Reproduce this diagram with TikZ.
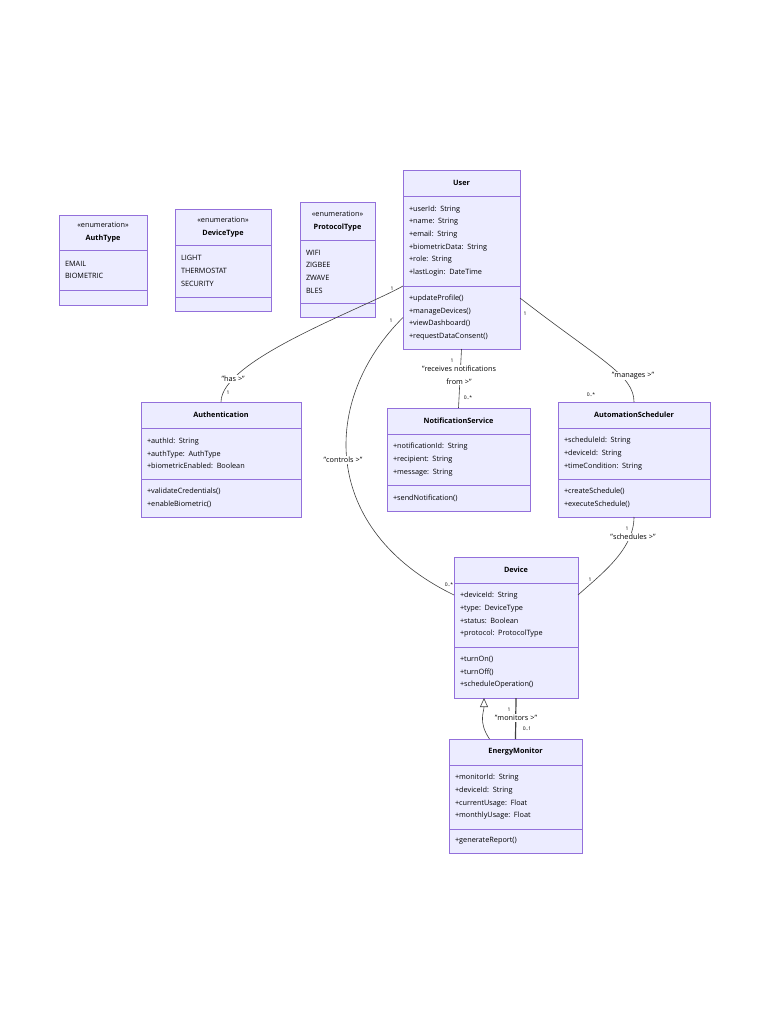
\documentclass[tikz,border=0pt]{standalone}
\usepackage{fontspec}
\setmainfont{Open Sans}
\usetikzlibrary{positioning,arrows.meta}

\definecolor{classfill}{HTML}{ECECFF}
\definecolor{classline}{HTML}{9370DB}

\begin{document}
\begin{tikzpicture}[x=1pt,y=-1pt,
    box/.style={draw=classline, fill=classfill, line width=0.8pt, outer sep=0pt, inner xsep=6pt,
        font=\fontsize{7.3}{12.7}\selectfont},
    ctitle/.style={box, anchor=north west, align=center, font=\fontsize{7.3}{12.7}\selectfont\bfseries},
    cbody/.style={box, align=left, anchor=north},
    assoc/.style={draw=black!75, line width=0.6pt},
    lbl/.style={font=\fontsize{7.3}{12.7}\selectfont, fill=white, inner sep=1pt, align=center},
    mult/.style={font=\fontsize{5}{6}\selectfont, inner sep=0pt}]
    \useasboundingbox (0,0) rectangle (768,1024);

    % enumerations
    \node[ctitle, minimum width=88, minimum height=35] (AuthType) at (59,215) {{\mdseries «enumeration»}\\AuthType};
    \node[cbody, minimum width=88, minimum height=40, text width=76, below=0pt of AuthType] (AuthType-a) {EMAIL\\BIOMETRIC};
    \node[cbody, minimum width=88, minimum height=15, below=0pt of AuthType-a] (AuthType-m) {};

    \node[ctitle, minimum width=96, minimum height=36] (DeviceType) at (175,209) {{\mdseries «enumeration»}\\DeviceType};
    \node[cbody, minimum width=96, minimum height=52, text width=84, below=0pt of DeviceType] (DeviceType-a) {LIGHT\\THERMOSTAT\\SECURITY};
    \node[cbody, minimum width=96, minimum height=14, below=0pt of DeviceType-a] (DeviceType-m) {};

    \node[ctitle, minimum width=75, minimum height=38] (ProtocolType) at (300,202) {{\mdseries «enumeration»}\\ProtocolType};
    \node[cbody, minimum width=75, minimum height=63, text width=63, below=0pt of ProtocolType] (ProtocolType-a) {WIFI\\ZIGBEE\\ZWAVE\\BLES};
    \node[cbody, minimum width=75, minimum height=14, below=0pt of ProtocolType-a] (ProtocolType-m) {};

    % classes
    \node[ctitle, minimum width=117, minimum height=26] (User) at (403,170) {User};
    \node[cbody, minimum width=117, minimum height=90, text width=105, below=0pt of User] (User-a)
        {+userId: String\\+name: String\\+email: String\\+biometricData: String\\+role: String\\+lastLogin: DateTime};
    \node[cbody, minimum width=117, minimum height=63, text width=105, below=0pt of User-a] (User-m)
        {+updateProfile()\\+manageDevices()\\+viewDashboard()\\+requestDataConsent()};

    \node[ctitle, minimum width=160, minimum height=26] (Auth) at (141,402) {Authentication};
    \node[cbody, minimum width=160, minimum height=51, text width=148, below=0pt of Auth] (Auth-a)
        {+authId: String\\+authType: AuthType\\+biometricEnabled: Boolean};
    \node[cbody, minimum width=160, minimum height=38, text width=148, below=0pt of Auth-a] (Auth-m)
        {+validateCredentials()\\+enableBiometric()};

    \node[ctitle, minimum width=143, minimum height=26] (Notif) at (387,408) {NotificationService};
    \node[cbody, minimum width=143, minimum height=51, text width=131, below=0pt of Notif] (Notif-a)
        {+notificationId: String\\+recipient: String\\+message: String};
    \node[cbody, minimum width=143, minimum height=26, text width=131, below=0pt of Notif-a] (Notif-m)
        {+sendNotification()};

    \node[ctitle, minimum width=152, minimum height=26] (Sched) at (558,402) {AutomationScheduler};
    \node[cbody, minimum width=152, minimum height=51, text width=140, below=0pt of Sched] (Sched-a)
        {+scheduleId: String\\+deviceId: String\\+timeCondition: String};
    \node[cbody, minimum width=152, minimum height=38, text width=140, below=0pt of Sched-a] (Sched-m)
        {+createSchedule()\\+executeSchedule()};

    \node[ctitle, minimum width=124, minimum height=26] (Device) at (454,557) {Device};
    \node[cbody, minimum width=124, minimum height=64, text width=112, below=0pt of Device] (Device-a)
        {+deviceId: String\\+type: DeviceType\\+status: Boolean\\+protocol: ProtocolType};
    \node[cbody, minimum width=124, minimum height=51, text width=112, below=0pt of Device-a] (Device-m)
        {+turnOn()\\+turnOff()\\+scheduleOperation()};

    \node[ctitle, minimum width=133, minimum height=26] (Energy) at (449,739) {EnergyMonitor};
    \node[cbody, minimum width=133, minimum height=64, text width=121, below=0pt of Energy] (Energy-a)
        {+monitorId: String\\+deviceId: String\\+currentUsage: Float\\+monthlyUsage: Float};
    \node[cbody, minimum width=133, minimum height=24, text width=121, below=0pt of Energy-a] (Energy-m)
        {+generateReport()};

    % relations
    \draw[assoc] (User-m.north west) .. controls (360,310) and (221,360) .. (Auth.north)
        node[lbl, pos=0.82] {"has >"};
    \node[mult] at (392,289) {1};
    \node[mult] at (228,393) {1};

    \draw[assoc] (User-m.west) .. controls (320,400) and (320,530) .. ([yshift=-12pt]Device-a.north west);
    \node[lbl] at (343,460) {"controls >"};
    \node[mult] at (391,321) {1};
    \node[mult] at (449,585) {0..*};

    \draw[assoc] (User-m.south) -- (Notif.north);
    \node[lbl] at (459,375) {"receives notifications\\from >"};
    \node[mult] at (452,361) {1};
    \node[mult] at (468,398) {0..*};

    \draw[assoc] ([yshift=-12pt]User-m.north east) .. controls (600,360) and (634,375) .. (Sched.north);
    \node[lbl] at (633,376) {"manages >"};
    \node[mult] at (525,314) {1};
    \node[mult] at (591,395) {0..*};

    \draw[assoc] (Sched-m.south) .. controls (634,550) and (600,575) .. ([yshift=-12pt]Device-a.north east);
    \node[lbl] at (633,537) {"schedules >"};
    \node[mult] at (627,529) {1};
    \node[mult] at (590,580) {1};

    \draw[assoc, -{Triangle[open, length=9pt, width=8pt]}] ([xshift=-26pt]Energy.north)
        .. controls (478,722) and (484,712) .. ([xshift=-32pt]Device-m.south);

    \draw[assoc, line width=1.2pt] (Device-m.south) -- (Energy.north);
    \node[lbl] at (516,718) {"monitors >"};
    \node[mult] at (509,710) {1};
    \node[mult] at (527,729) {0..1};
\end{tikzpicture}
\end{document}
